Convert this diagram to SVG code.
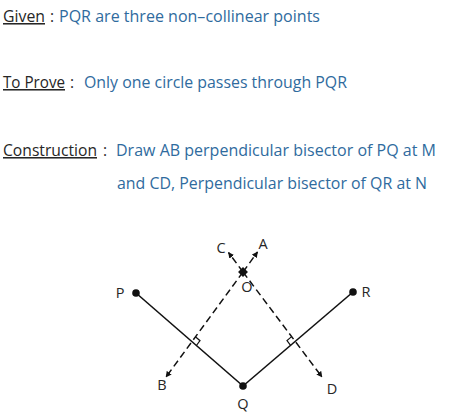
<svg xmlns="http://www.w3.org/2000/svg" width="474" height="413" viewBox="0 0 474 413">
<style>
.lbl{font-family:"Open Sans","Liberation Sans",sans-serif;font-size:15.5px;fill:#262626}
.ul{text-decoration:underline}
.txt{font-family:"Open Sans","Liberation Sans",sans-serif;font-size:15.5px;fill:#2f6b9e}
.pt{font-family:"Open Sans","Liberation Sans",sans-serif;font-size:14.5px;fill:#262626;text-anchor:middle}
.seg{stroke:#111;stroke-width:1.6;fill:none}
.dash{stroke:#111;stroke-width:1.5;fill:none;stroke-dasharray:7 4}
.ra{stroke:#111;stroke-width:1.2;fill:none}
</style>
<defs>
<marker id="arr" viewBox="0 0 10 10" refX="9" refY="5" markerWidth="6" markerHeight="6" orient="auto" markerUnits="userSpaceOnUse">
<path d="M0,0 L10,5 L0,10 z" fill="#111"/>
</marker>
</defs>
<g id="text">
<text class="lbl" x="3" y="22"><tspan class="ul" textLength="42" lengthAdjust="spacingAndGlyphs">Given</tspan></text>
<text class="lbl" x="50" y="22">:</text>
<text class="txt" x="59" y="22" textLength="261" lengthAdjust="spacingAndGlyphs">PQR are three non–collinear points</text>
<text class="lbl" x="3" y="88"><tspan class="ul" textLength="62" lengthAdjust="spacingAndGlyphs">To Prove</tspan></text>
<text class="lbl" x="70" y="88">:</text>
<text class="txt" x="84" y="88" textLength="263" lengthAdjust="spacingAndGlyphs">Only one circle passes through PQR</text>
<text class="lbl" x="3" y="156"><tspan class="ul" textLength="94" lengthAdjust="spacingAndGlyphs">Construction</tspan></text>
<text class="lbl" x="103" y="156">:</text>
<text class="txt" x="116" y="156" textLength="320" lengthAdjust="spacingAndGlyphs">Draw AB perpendicular bisector of PQ at M</text>
<text class="txt" x="117" y="189" textLength="310" lengthAdjust="spacingAndGlyphs">and CD, Perpendicular bisector of QR at N</text>
</g>
<g id="connectors">
<line class="seg" x1="136" y1="293" x2="243" y2="386"/>
<line class="seg" x1="243" y1="386" x2="353" y2="292"/>
<line class="dash" x1="243" y1="272" x2="166" y2="377" marker-end="url(#arr)"/>
<line class="dash" x1="243" y1="272" x2="257.5" y2="252" marker-end="url(#arr)"/>
<line class="dash" x1="243" y1="272" x2="322" y2="377" marker-end="url(#arr)"/>
<line class="dash" x1="243" y1="272" x2="228.5" y2="252.5" marker-end="url(#arr)"/>
<path class="ra" d="M196.4,345.5 L200,340.7 L195.4,336.8"/>
<path class="ra" d="M290.6,345.3 L287,340.5 L291.6,336.6"/>
</g>
<g id="node-P"><circle cx="136" cy="293" r="3.8" fill="#111"/><text class="pt" x="120" y="298">P</text></g>
<g id="node-Q"><circle cx="243" cy="386" r="3.8" fill="#111"/><text class="pt" x="243" y="409">Q</text></g>
<g id="node-R"><circle cx="353" cy="292" r="3.8" fill="#111"/><text class="pt" x="366" y="297">R</text></g>
<g id="node-O"><rect x="239.5" y="268.5" width="7" height="7" fill="#111" transform="rotate(45 243 272)"/><text class="pt" x="247" y="292">O</text></g>
<g id="node-A"><text class="pt" x="263" y="249">A</text></g>
<g id="node-B"><text class="pt" x="162" y="390">B</text></g>
<g id="node-C"><text class="pt" x="221" y="253">C</text></g>
<g id="node-D"><text class="pt" x="332" y="394">D</text></g>
</svg>
